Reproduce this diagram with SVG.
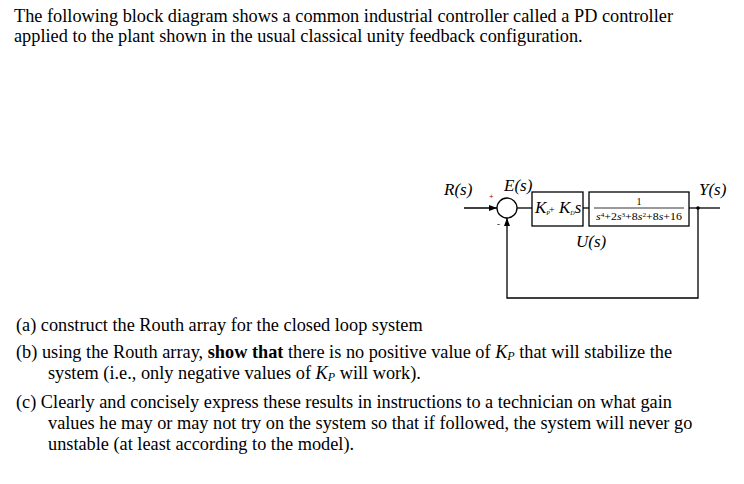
<svg xmlns="http://www.w3.org/2000/svg" width="744" height="484" viewBox="0 0 744 484">
<style>
.t{font-family:"Liberation Serif",serif;font-size:18.3px;fill:#000}
.l{font-family:"Liberation Serif",serif;font-style:italic;font-size:17px}
.s{font-family:"Liberation Serif",serif;font-size:10px}
.w{stroke:#000;stroke-width:1.3;fill:none}
</style>
<defs><marker id="a" markerWidth="8" markerHeight="6" refX="8" refY="3" orient="auto" markerUnits="userSpaceOnUse"><path d="M0,0L8,3L0,6z"/></marker></defs>
<rect width="744" height="484" fill="#fff"/>
<text class="t" x="14" y="22">The following block diagram shows a common industrial controller called a PD controller</text>
<text class="t" x="14" y="42">applied to the plant shown in the usual classical unity feedback configuration.</text>
<g id="connectors">
<line class="w" x1="464" y1="208" x2="497" y2="208" marker-end="url(#a)"/>
<line class="w" x1="517" y1="208" x2="532" y2="208"/>
<line class="w" x1="583" y1="208" x2="589" y2="208"/>
<line class="w" x1="689" y1="208" x2="720" y2="208"/>
<polyline class="w" points="698,208 698,298 507,298 507,218" marker-end="url(#a)"/>
<circle cx="698" cy="208" r="1.8"/>
</g>
<g id="sum"><circle class="w" cx="507" cy="208" r="10"/>
<text x="489" y="199" font-family="Liberation Sans,sans-serif" font-size="8" fill="#c00">+</text>
<text x="497" y="227" font-family="Liberation Sans,sans-serif" font-size="9">-</text></g>
<g id="controller"><rect class="w" x="532" y="192" width="51" height="34"/>
<text class="l" x="535" y="213" font-size="11">K<tspan font-size="6" dy="2">P</tspan></text>
<text class="s" x="549" y="213" font-size="11">+</text>
<text class="l" x="559" y="213" font-size="11">K<tspan font-size="6" dy="2">D</tspan><tspan dy="-2">s</tspan></text></g>
<g id="plant"><rect class="w" x="589" y="192" width="100" height="34"/>
<text class="s" x="639" y="205" text-anchor="middle">1</text>
<line x1="594" y1="208" x2="684" y2="208" stroke="#000" stroke-width="0.8"/>
<text class="s" x="596" y="220" textLength="86" lengthAdjust="spacingAndGlyphs"><tspan font-style="italic">s</tspan><tspan font-size="6" dy="-3">4</tspan><tspan dy="3">+2</tspan><tspan font-style="italic">s</tspan><tspan font-size="6" dy="-3">3</tspan><tspan dy="3">+8</tspan><tspan font-style="italic">s</tspan><tspan font-size="6" dy="-3">2</tspan><tspan dy="3">+8</tspan><tspan font-style="italic">s</tspan>+16</text></g>
<text class="l" x="444" y="195">R(s)</text>
<text class="l" x="504" y="191">E(s)</text>
<text class="l" x="699" y="195">Y(s)</text>
<text class="l" x="576" y="247">U(s)</text>
<text class="t" x="16" y="331">(a) construct the Routh array for the closed loop system</text>
<text class="t" x="16" y="358">(b) using the Routh array, <tspan font-weight="bold">show that</tspan> there is no positive value of <tspan font-style="italic">K<tspan font-size="12" dy="2">P</tspan></tspan><tspan dy="-2"> that will stabilize the</tspan></text>
<text class="t" x="48" y="379">system (i.e., only negative values of <tspan font-style="italic">K<tspan font-size="12" dy="2">P</tspan></tspan><tspan dy="-2"> will work).</tspan></text>
<text class="t" x="16" y="408">(c) Clearly and concisely express these results in instructions to a technician on what gain</text>
<text class="t" x="48" y="429">values he may or may not try on the system so that if followed, the system will never go</text>
<text class="t" x="48" y="450">unstable (at least according to the model).</text>
</svg>
